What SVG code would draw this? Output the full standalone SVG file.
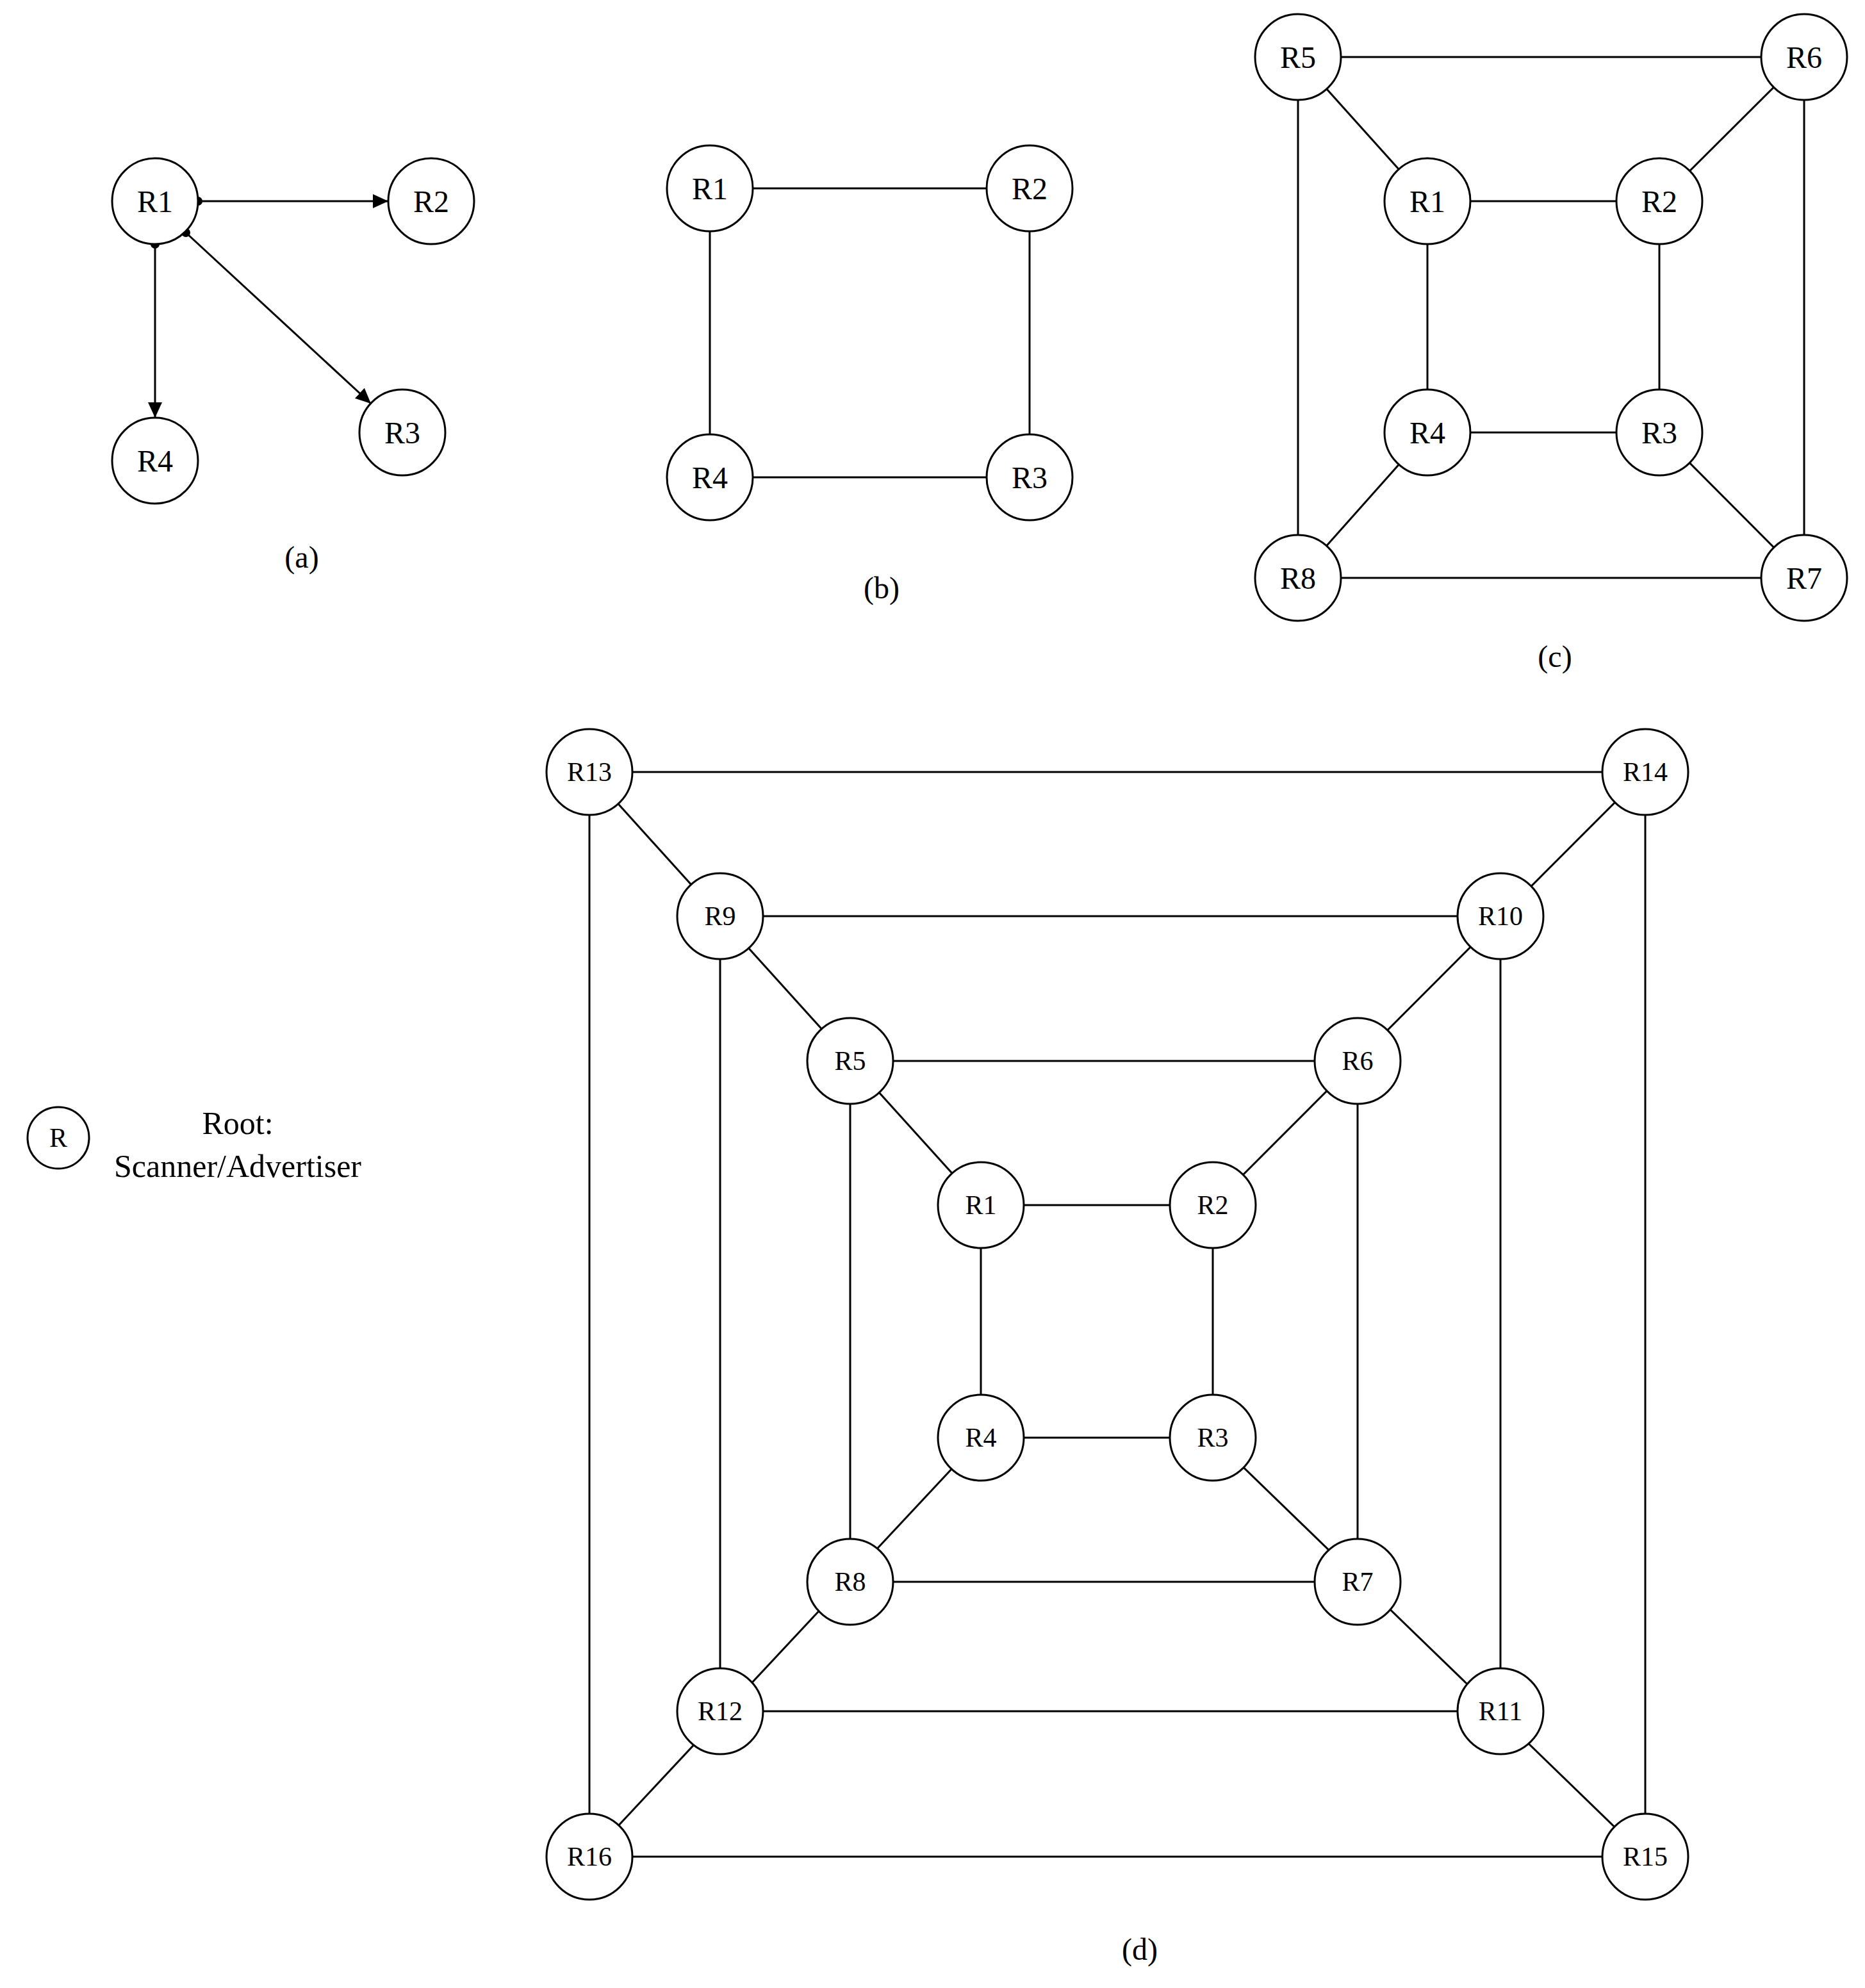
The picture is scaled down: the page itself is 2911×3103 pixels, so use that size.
<svg xmlns="http://www.w3.org/2000/svg" width="2911" height="3103" viewBox="0 0 2911 3103">
<style>
.n{fill:#fff;stroke:#000;stroke-width:3}
.t{font-family:"Liberation Serif",serif;font-size:48px;text-anchor:middle;dominant-baseline:central}
.s{font-size:42px}
.e line{stroke:#000;stroke-width:3}
.cap{font-family:"Liberation Serif",serif;font-size:48px;text-anchor:middle}
</style>
<defs>
<marker id="ah" markerUnits="userSpaceOnUse" markerWidth="26" markerHeight="22" refX="24" refY="11" orient="auto"><path d="M0,0 L24,11 L0,22 Z" fill="#000"/></marker>
</defs>
<g id="connectors" class="e">
<line x1="309" y1="314" x2="606" y2="314" marker-end="url(#ah)"/>
<line x1="242" y1="381" x2="242" y2="652" marker-end="url(#ah)"/>
<line x1="290" y1="363" x2="579" y2="630" marker-end="url(#ah)"/>
<line x1="1108" y1="294" x2="1607" y2="294"/><line x1="1607" y1="294" x2="1607" y2="745"/><line x1="1607" y1="745" x2="1108" y2="745"/><line x1="1108" y1="745" x2="1108" y2="294"/>
<line x1="2026" y1="89" x2="2816" y2="89"/><line x1="2026" y1="89" x2="2228" y2="314"/><line x1="2026" y1="89" x2="2026" y2="902"/><line x1="2816" y1="89" x2="2590" y2="314"/><line x1="2816" y1="89" x2="2816" y2="902"/><line x1="2228" y1="314" x2="2590" y2="314"/><line x1="2228" y1="314" x2="2228" y2="675"/><line x1="2590" y1="314" x2="2590" y2="675"/><line x1="2228" y1="675" x2="2590" y2="675"/><line x1="2228" y1="675" x2="2026" y2="902"/><line x1="2590" y1="675" x2="2816" y2="902"/><line x1="2026" y1="902" x2="2816" y2="902"/>
<line x1="920" y1="1205" x2="2568" y2="1205"/><line x1="2568" y1="1205" x2="2568" y2="2898"/><line x1="2568" y1="2898" x2="920" y2="2898"/><line x1="920" y1="2898" x2="920" y2="1205"/>
<line x1="1124" y1="1430" x2="2342" y2="1430"/><line x1="2342" y1="1430" x2="2342" y2="2671"/><line x1="2342" y1="2671" x2="1124" y2="2671"/><line x1="1124" y1="2671" x2="1124" y2="1430"/>
<line x1="1327" y1="1656" x2="2119" y2="1656"/><line x1="2119" y1="1656" x2="2119" y2="2469"/><line x1="2119" y1="2469" x2="1327" y2="2469"/><line x1="1327" y1="2469" x2="1327" y2="1656"/>
<line x1="1531" y1="1881" x2="1893" y2="1881"/><line x1="1893" y1="1881" x2="1893" y2="2244"/><line x1="1893" y1="2244" x2="1531" y2="2244"/><line x1="1531" y1="2244" x2="1531" y2="1881"/>
<line x1="920" y1="1205" x2="1531" y2="1881"/><line x1="2568" y1="1205" x2="1893" y2="1881"/><line x1="2568" y1="2898" x2="1893" y2="2244"/><line x1="920" y1="2898" x2="1531" y2="2244"/>
</g>
<g fill="#000"><circle cx="309" cy="314" r="7"/><circle cx="242" cy="381" r="7"/><circle cx="290" cy="363" r="7"/></g>
<g id="a-R1"><circle class="n" cx="242" cy="314" r="67"/><text class="t" x="242" y="314">R1</text></g>
<g id="a-R2"><circle class="n" cx="673" cy="314" r="67"/><text class="t" x="673" y="314">R2</text></g>
<g id="a-R3"><circle class="n" cx="628" cy="675" r="67"/><text class="t" x="628" y="675">R3</text></g>
<g id="a-R4"><circle class="n" cx="242" cy="719" r="67"/><text class="t" x="242" y="719">R4</text></g>
<text class="cap" x="471" y="886">(a)</text>
<g id="b-R1"><circle class="n" cx="1108" cy="294" r="67"/><text class="t" x="1108" y="294">R1</text></g>
<g id="b-R2"><circle class="n" cx="1607" cy="294" r="67"/><text class="t" x="1607" y="294">R2</text></g>
<g id="b-R3"><circle class="n" cx="1607" cy="745" r="67"/><text class="t" x="1607" y="745">R3</text></g>
<g id="b-R4"><circle class="n" cx="1108" cy="745" r="67"/><text class="t" x="1108" y="745">R4</text></g>
<text class="cap" x="1376" y="934">(b)</text>
<g id="c-R5"><circle class="n" cx="2026" cy="89" r="67"/><text class="t" x="2026" y="89">R5</text></g>
<g id="c-R6"><circle class="n" cx="2816" cy="89" r="67"/><text class="t" x="2816" y="89">R6</text></g>
<g id="c-R1"><circle class="n" cx="2228" cy="314" r="67"/><text class="t" x="2228" y="314">R1</text></g>
<g id="c-R2"><circle class="n" cx="2590" cy="314" r="67"/><text class="t" x="2590" y="314">R2</text></g>
<g id="c-R4"><circle class="n" cx="2228" cy="675" r="67"/><text class="t" x="2228" y="675">R4</text></g>
<g id="c-R3"><circle class="n" cx="2590" cy="675" r="67"/><text class="t" x="2590" y="675">R3</text></g>
<g id="c-R8"><circle class="n" cx="2026" cy="902" r="67"/><text class="t" x="2026" y="902">R8</text></g>
<g id="c-R7"><circle class="n" cx="2816" cy="902" r="67"/><text class="t" x="2816" y="902">R7</text></g>
<text class="cap" x="2427" y="1041">(c)</text>
<g id="d-R13"><circle class="n" cx="920" cy="1205" r="67"/><text class="t s" x="920" y="1205">R13</text></g>
<g id="d-R14"><circle class="n" cx="2568" cy="1205" r="67"/><text class="t s" x="2568" y="1205">R14</text></g>
<g id="d-R9"><circle class="n" cx="1124" cy="1430" r="67"/><text class="t s" x="1124" y="1430">R9</text></g>
<g id="d-R10"><circle class="n" cx="2342" cy="1430" r="67"/><text class="t s" x="2342" y="1430">R10</text></g>
<g id="d-R5"><circle class="n" cx="1327" cy="1656" r="67"/><text class="t s" x="1327" y="1656">R5</text></g>
<g id="d-R6"><circle class="n" cx="2119" cy="1656" r="67"/><text class="t s" x="2119" y="1656">R6</text></g>
<g id="d-R1"><circle class="n" cx="1531" cy="1881" r="67"/><text class="t s" x="1531" y="1881">R1</text></g>
<g id="d-R2"><circle class="n" cx="1893" cy="1881" r="67"/><text class="t s" x="1893" y="1881">R2</text></g>
<g id="d-R4"><circle class="n" cx="1531" cy="2244" r="67"/><text class="t s" x="1531" y="2244">R4</text></g>
<g id="d-R3"><circle class="n" cx="1893" cy="2244" r="67"/><text class="t s" x="1893" y="2244">R3</text></g>
<g id="d-R8"><circle class="n" cx="1327" cy="2469" r="67"/><text class="t s" x="1327" y="2469">R8</text></g>
<g id="d-R7"><circle class="n" cx="2119" cy="2469" r="67"/><text class="t s" x="2119" y="2469">R7</text></g>
<g id="d-R12"><circle class="n" cx="1124" cy="2671" r="67"/><text class="t s" x="1124" y="2671">R12</text></g>
<g id="d-R11"><circle class="n" cx="2342" cy="2671" r="67"/><text class="t s" x="2342" y="2671">R11</text></g>
<g id="d-R16"><circle class="n" cx="920" cy="2898" r="67"/><text class="t s" x="920" y="2898">R16</text></g>
<g id="d-R15"><circle class="n" cx="2568" cy="2898" r="67"/><text class="t s" x="2568" y="2898">R15</text></g>
<text class="cap" x="1779" y="3059">(d)</text>
<g id="legend"><circle class="n" cx="91" cy="1776" r="48"/><text class="t s" x="91" y="1776">R</text>
<text class="cap" x="371" y="1770" style="font-size:50px">Root:</text>
<text class="cap" x="371" y="1837" style="font-size:50px">Scanner/Advertiser</text></g>
</svg>
